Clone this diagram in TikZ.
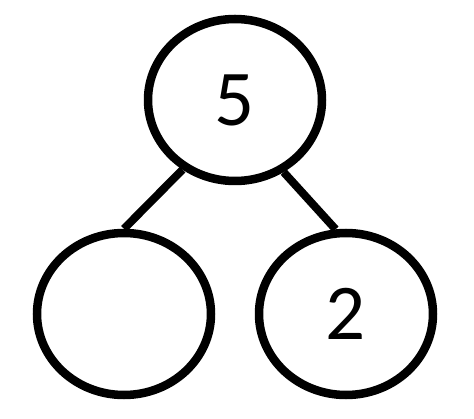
\documentclass[tikz,border=0pt]{standalone}
\usepackage{fontspec}
\setmainfont{Carlito}
\usetikzlibrary{shapes.geometric}

\tikzset{
    bubble/.style={draw,ellipse,line width=8.5pt,inner sep=0pt,
        minimum width=174pt,minimum height=162pt,
        font=\fontsize{79}{80}\selectfont},
    stem/.style={line width=8pt}
}

\begin{document}
\begin{tikzpicture}[x=1pt,y=-1pt]
        \useasboundingbox (0,0) rectangle (474,419);
        \node[bubble] (whole) at (235,100){5};
        \node[bubble] (partA) at (124,314){};
        \node[bubble] (partB) at (346,314){2};
        
        \draw[stem] (whole.-127)--(partA.north);
        \draw[stem] (whole.-56)--(partB.97);
    \end{tikzpicture}
\end{document}
